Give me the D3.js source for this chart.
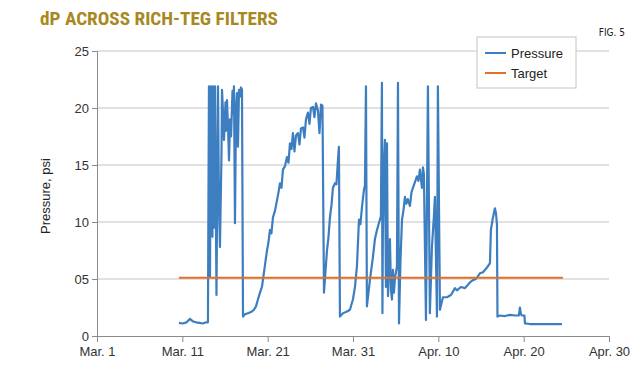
<!DOCTYPE html>
<html>
<head>
<meta charset="utf-8">
<script src="https://cdn.jsdelivr.net/npm/d3@7"></script>
<style>
  html, body { margin: 0; padding: 0; background: #fff; }
  svg { display: block; }
  text { font-family: "Liberation Sans", Arial, sans-serif; }
</style>
</head>
<body>
<svg id="chart" width="640" height="374"></svg>
<script>
// ---- Data (day offset from Mar. 1, pressure in psi) ----
const pressureDays = [
  9.6, 10.0, 10.5, 10.9, 11.2, 11.6, 12.0, 12.4, 12.8, 13.0,
  13.12, 13.24, 13.36, 13.53, 13.59, 13.71, 13.83, 14.0, 14.18, 14.29,
  14.41, 14.59, 14.65, 14.77, 14.88, 15.06, 15.11, 15.23, 15.35, 15.47,
  15.59, 15.71, 15.88, 15.94, 16.05, 16.17, 16.29, 16.40, 16.52, 16.64,
  16.75, 16.87, 16.99, 17.11,
  17.34, 17.69, 18.04, 18.39, 18.63, 18.86, 19.1, 19.33, 19.5, 19.68,
  19.92, 20.09, 20.27, 20.44, 20.62, 20.86, 21.09, 21.27, 21.44, 21.62,
  21.79, 22.03, 22.26, 22.44, 22.61, 22.79, 22.96, 23.14, 23.32, 23.55,
  23.73, 23.90, 24.14, 24.31, 24.49, 24.72, 24.9, 25.07, 25.31, 25.48,
  25.66, 25.89, 26.07, 26.25, 26.42, 26.6,
  26.95, 27.12, 27.3, 27.48, 27.65, 27.89, 28.06, 28.24, 28.35, 28.47,
  28.82, 29.17, 29.41, 29.64, 29.99, 30.23, 30.46, 30.7, 30.87, 31.05,
  31.28, 31.40, 31.52, 31.63, 31.98, 32.33, 32.57, 32.81, 33.04, 33.27,
  33.39, 33.45, 33.5, 33.62, 33.74, 33.86, 33.98, 34.1, 34.21, 34.33,
  34.45, 34.57, 34.68, 34.8, 34.92, 35.15, 35.27, 35.39, 35.56, 35.74,
  35.91, 36.09, 36.26, 36.44, 36.67, 36.85, 37.02, 37.26, 37.49, 37.67,
  37.84, 38.08, 38.2, 38.31, 38.55, 38.78, 39.01, 39.25, 39.48, 39.6,
  39.84, 39.95, 40.19, 40.54, 41.01, 41.48, 41.95, 42.18, 42.65, 43.12,
  43.36, 43.7, 44.06, 44.41, 44.87, 45.23, 45.7, 46.05, 46.16, 46.4,
  46.63, 46.75, 46.87, 46.93, 47.22, 47.8, 48.39, 48.98, 49.44, 49.56,
  49.68, 49.8, 50.09, 50.15, 50.73, 51.9, 53.08, 54.48
];
const pressureValues = [
  1.15, 1.1, 1.2, 1.5, 1.3, 1.2, 1.15, 1.1, 1.2, 1.2,
  21.9, 5.2, 21.9, 8.7, 21.9, 9.5, 21.9, 3.6, 21.9, 12.0,
  7.8, 16.0, 21.6, 19.6, 17.2, 20.5, 18.0, 20.7, 18.5, 15.4,
  19.0, 17.5, 21.5, 19.5, 21.9, 9.9, 20.0, 21.3, 16.6, 21.6,
  21.0, 21.8, 21.6, 1.7,
  1.9, 2.0, 2.1, 2.3, 2.6, 3.2, 3.8, 4.3, 5.2, 6.2,
  7.5, 8.2, 9.3, 9.0, 10.4, 11.0, 11.9, 12.6, 13.4, 13.0,
  14.6, 14.9, 15.7, 15.2, 16.9, 16.4, 17.8, 16.2, 17.6, 17.8,
  16.8, 18.2, 18.3, 17.4, 19.0, 19.6, 18.6, 20.0, 20.1, 19.2,
  20.4, 19.8, 17.8, 20.3, 20.2, 3.8,
  7.5, 8.6, 10.4, 11.5, 13.0, 13.4, 13.3, 15.5, 16.6, 1.7,
  2.0, 2.1, 2.2, 2.3, 3.2, 4.3, 6.1, 10.2, 9.8, 11.3,
  12.8, 13.2, 21.9, 2.6, 4.9, 6.9, 8.5, 9.3, 9.9, 10.5,
  22.2, 2.0, 9.0, 15.0, 17.2, 4.3, 16.9, 3.5, 6.1, 8.5,
  4.0, 3.2, 5.8, 3.8, 5.1, 6.1, 22.2, 1.1, 6.5, 10.2,
  11.0, 12.2, 11.6, 12.0, 11.4, 12.6, 13.0, 13.5, 14.0, 13.6,
  14.6, 13.0, 14.8, 14.2, 1.4, 21.9, 2.0, 7.8, 10.5, 12.2,
  1.7, 21.9, 2.3, 3.4, 3.4, 3.6, 4.2, 4.0, 4.3, 4.2,
  4.4, 4.7, 4.9, 5.0, 5.5, 5.6, 6.0, 6.4, 9.3, 10.4,
  11.2, 10.8, 9.8, 1.7, 1.8, 1.75, 1.85, 1.8, 1.8, 2.5,
  1.9, 1.8, 1.8, 1.1, 1.05, 1.05, 1.05, 1.05
];
const targetDays = [9.6, 54.6];
const targetValues = [5.1, 5.1];

const xTickDays = [0, 10, 20, 30, 40, 50, 60];
const xTickLabels = ["Mar. 1", "Mar. 11", "Mar. 21", "Mar. 31", "Apr. 10", "Apr. 20", "Apr. 30"];
const yTickValues = [0, 5, 10, 15, 20, 25];
const yTickLabels = ["0", "05", "10", "15", "20", "25"];
const seriesNames = ["Pressure", "Target"];

// ---- Setup ----
const base = Date.UTC(2016, 2, 1);
const toDate = d => new Date(base + d * 864e5);

const svg = d3.select("#chart");
const x = d3.scaleUtc().domain([toDate(0), toDate(60)]).range([97, 609]);
const y = d3.scaleLinear().domain([0, 25]).range([336, 51]);

const colors = { Pressure: "#3d7ec0", Target: "#e0702a" };

// Title
svg.append("text")
  .attr("x", 40).attr("y", 25)
  .attr("fill", "#a7891f")
  .style("font-family", "'Liberation Sans Narrow', 'Roboto Condensed', 'DejaVu Sans Condensed', sans-serif")
  .style("font-weight", "bold")
  .style("font-size", "18px")
  .attr("textLength", 238)
  .attr("lengthAdjust", "spacingAndGlyphs")
  .text("dP ACROSS RICH-TEG FILTERS");

svg.append("text")
  .attr("x", 625).attr("y", 36)
  .attr("text-anchor", "end")
  .attr("fill", "#222")
  .style("font-family", "'Liberation Sans Narrow', 'DejaVu Sans Condensed', sans-serif")
  .style("font-size", "10px")
  .text("FIG. 5");

// Gridlines
svg.append("g").selectAll("line")
  .data(yTickValues.filter(v => v > 0))
  .join("line")
  .attr("x1", 97).attr("x2", 609)
  .attr("y1", d => y(d)).attr("y2", d => y(d))
  .attr("stroke", "#c4c4c4").attr("stroke-width", 1);

// Axes
const yAxis = d3.axisLeft(y)
  .tickValues(yTickValues)
  .tickFormat((d, i) => yTickLabels[i])
  .tickSizeOuter(0).tickSize(5).tickPadding(3);
const gy = svg.append("g").attr("transform", "translate(97,0)").call(yAxis);

const xAxis = d3.axisBottom(x)
  .tickValues(xTickDays.map(toDate))
  .tickFormat((d, i) => xTickLabels[i])
  .tickSizeOuter(0).tickSize(6).tickPadding(5);
const gx = svg.append("g").attr("transform", "translate(0,336)").call(xAxis);

[gx, gy].forEach(g => {
  g.select(".domain").attr("stroke", "#8a8a8a");
  g.selectAll(".tick line").attr("stroke", "#8a8a8a");
  g.selectAll(".tick text").attr("fill", "#333").style("font-size", "13px")
    .style("font-family", "'Liberation Sans', Arial, sans-serif");
});

// Y label
svg.append("text")
  .attr("transform", "translate(50,196) rotate(-90)")
  .attr("text-anchor", "middle")
  .attr("fill", "#222")
  .style("font-size", "13px")
  .text("Pressure, psi");

// Lines
const line = d3.line()
  .x(d => x(toDate(d[0])))
  .y(d => y(d[1]));

const pressure = pressureDays.map((d, i) => [d, pressureValues[i]]);
const target = targetDays.map((d, i) => [d, targetValues[i]]);

svg.append("path")
  .datum(pressure)
  .attr("fill", "none")
  .attr("stroke", colors.Pressure)
  .attr("stroke-width", 2.2)
  .attr("stroke-linejoin", "round")
  .attr("d", line);

svg.append("path")
  .datum(target)
  .attr("fill", "none")
  .attr("stroke", colors.Target)
  .attr("stroke-width", 2)
  .attr("d", line);

// Legend
const lg = svg.append("g").attr("transform", "translate(477,37)");
lg.append("rect")
  .attr("width", 99).attr("height", 51)
  .attr("fill", "#fff").attr("stroke", "#c4c4c4");
seriesNames.forEach((name, i) => {
  const yy = 16 + i * 20;
  lg.append("line")
    .attr("x1", 8).attr("x2", 29).attr("y1", yy).attr("y2", yy)
    .attr("stroke", colors[name]).attr("stroke-width", 2);
  lg.append("text")
    .attr("x", 34).attr("y", yy + 5)
    .attr("fill", "#222")
    .style("font-size", "13px")
    .text(name);
});
</script>
</body>
</html>
